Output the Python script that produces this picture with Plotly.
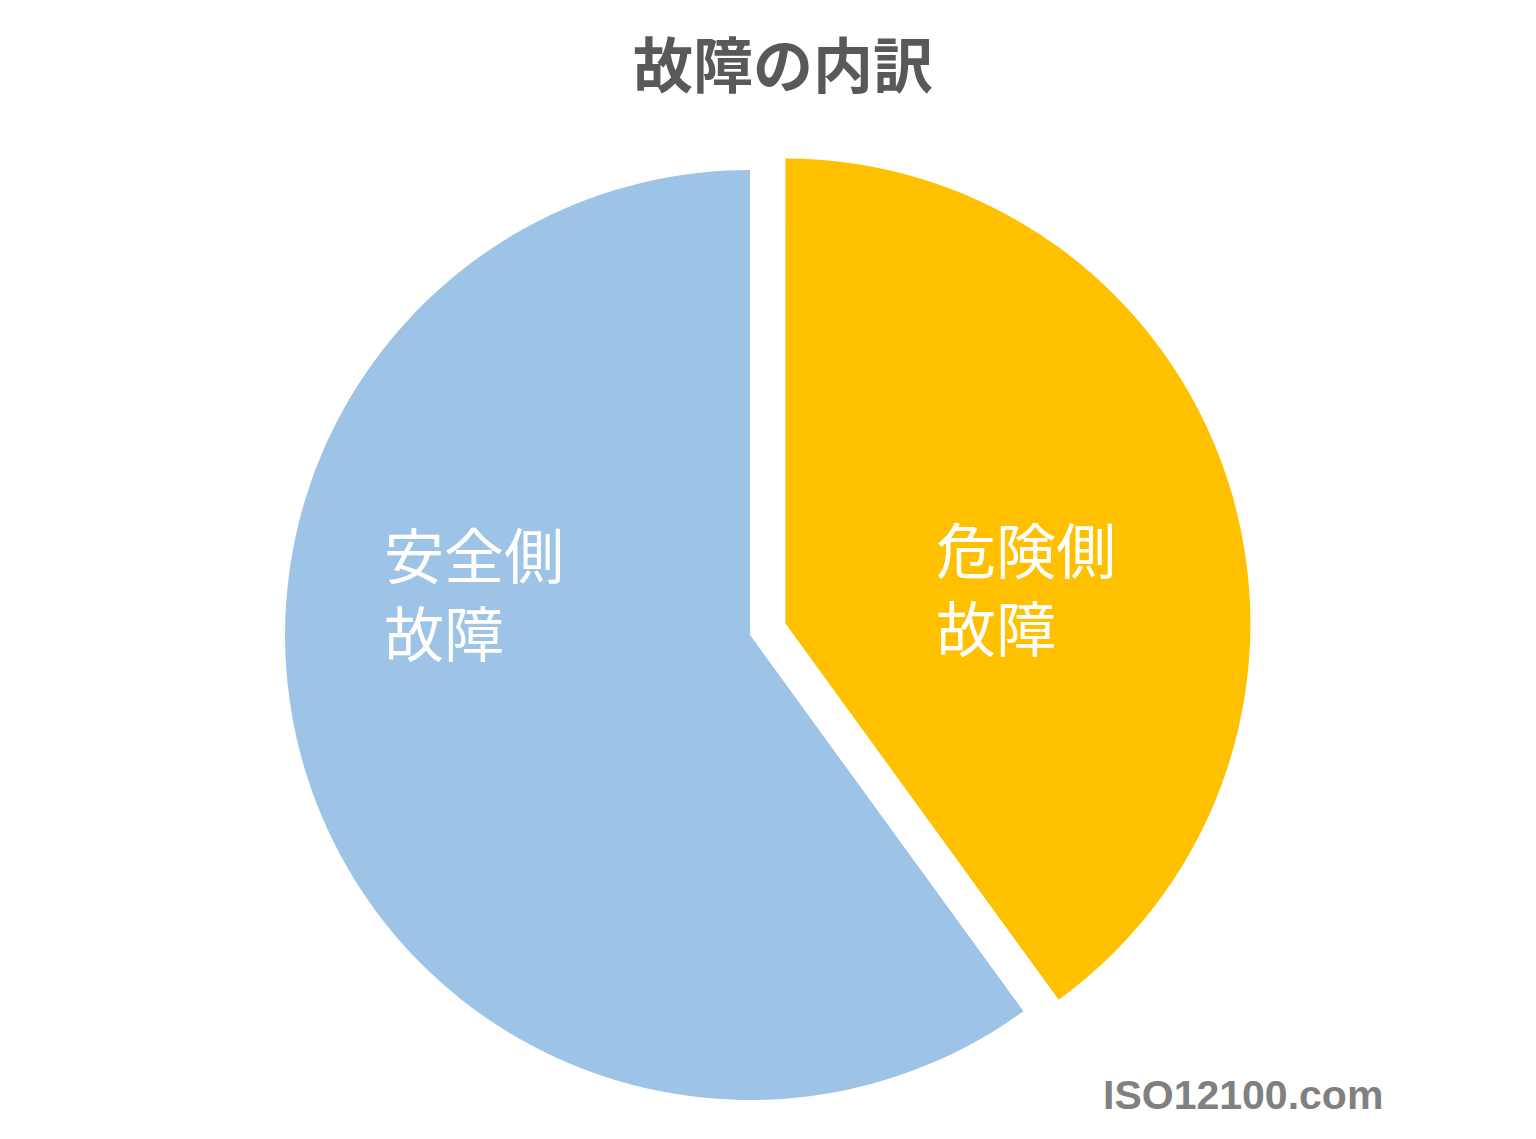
import plotly.graph_objects as go

# slice data
labels = ['危険側故障', '安全側故障']
label_text = ['危険側<br>故障', '安全側<br>故障']
values = [40, 60]
colors = ['#FFC000', '#9DC3E6']
pulls = [0.08, 0]

fig = go.Figure()

fig.add_trace(go.Pie(
	labels=labels,
	values=values,
	sort=False,
	direction='clockwise',
	rotation=0,
	pull=pulls,
	textinfo='none',
	hoverinfo='label+percent',
	marker=dict(colors=colors, line=dict(width=0)),
	domain=dict(x=[0.1561, 0.8101], y=[0.0086, 0.8904]),
	showlegend=False,
))

# labels placed like the original (left aligned, inside each slice)
lab_font = dict(family='Noto Sans CJK JP', size=60, color='white')
fig.add_annotation(text=label_text[1], x=0.2435, y=0.4875, xref='paper', yref='paper',
				   xanchor='left', yanchor='middle', align='left', showarrow=False, font=lab_font)
fig.add_annotation(text=label_text[0], x=0.6028, y=0.4925, xref='paper', yref='paper',
				   xanchor='left', yanchor='middle', align='left', showarrow=False, font=lab_font)

# watermark
fig.add_annotation(text='<b>ISO12100.com</b>', x=0.8965, y=0.0456, xref='paper', yref='paper',
				   xanchor='right', yanchor='middle', showarrow=False,
				   font=dict(family='Liberation Sans', size=41, color='#808080'))

fig.update_layout(
	width=1536, height=1139,
	margin=dict(l=0, r=0, t=0, b=0),
	paper_bgcolor='white',
	title=dict(text='<b>故障の内訳</b>', x=0.5045, xanchor='center', y=1 - 59 / 1139, yanchor='middle',
			   font=dict(family='Noto Sans CJK JP', size=60, color='#595959')),
)

fig.write_html("out.html")
